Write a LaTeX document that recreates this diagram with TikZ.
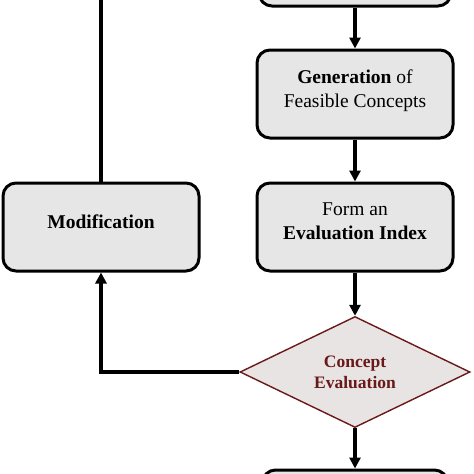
\documentclass[tikz,border=0pt]{standalone}
\usepackage{fontspec}
\setmainfont{Liberation Serif}
\usetikzlibrary{shapes.geometric,arrows.meta}
\definecolor{boxgray}{RGB}{230,230,230}
\definecolor{diagray}{RGB}{232,228,228}
\definecolor{darkred}{RGB}{105,25,25}
\tikzset{
	stage/.style={draw=black, line width=3pt, fill=boxgray, rounded corners=13pt, minimum width=196pt, minimum height=88pt, align=center, text depth=11pt, font=\fontsize{19.5}{24}\selectfont},
	decision/.style={diamond, draw=darkred, line width=1.4pt, fill=diagray, minimum width=230pt, minimum height=111pt, inner sep=0pt, aspect=2.07, align=center, text=darkred, font=\fontsize{17.5}{21}\selectfont\bfseries},
	flow/.style={line width=3.6pt, -{Triangle[length=11pt,width=11pt]}},
	plain/.style={line width=3.6pt}
}

\begin{document}
\begin{tikzpicture}[x=1pt, y=-1pt]
			%%%%% START %%%%%
			\clip (0, 0) rectangle (474, 474);
			
			\node[stage, minimum width=192pt] (prev) at (355, -38) {};
			\node[stage] (gen) at (355, 94) {\textbf{Generation} of\\Feasible Concepts};
			\node[stage] (index) at (355, 227) {Form an\\\textbf{Evaluation Index}};
			\node[stage] (modif) at (101, 227) {\textbf{Modification}};
			\node[decision] (concept) at (355, 372) {Concept\\Evaluation};
			\node[stage, minimum width=185pt] (next) at (355, 514) {};
			
			\coordinate (modup) at (101, -10);
			
			\draw[flow] (prev) -- (gen);
			\draw[flow] (gen) -- (index);
			\draw[flow] (index) -- (concept.north);
			\draw[flow] (concept.south) -- (next);
			\draw[flow] (concept.west) -| (modif.south);
			\draw[plain] (modif.north) -- (modup);
			
			%%%%% END %%%%%
\end{tikzpicture}
\end{document}
